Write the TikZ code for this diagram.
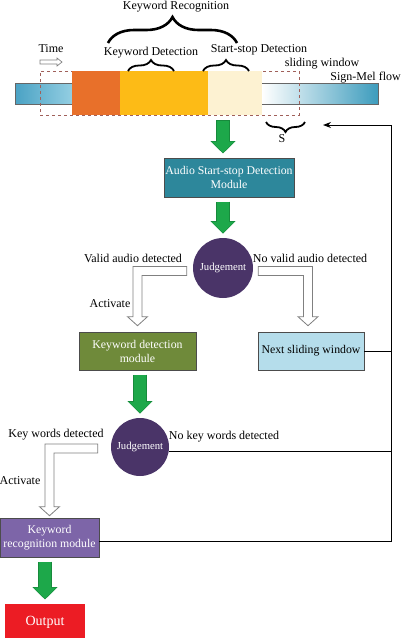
\documentclass[tikz,border=0pt]{standalone}
\usepackage{fontspec}
\setmainfont{Liberation Serif}
\usetikzlibrary{arrows.meta,calc,decorations.pathreplacing}
\definecolor{barLa}{HTML}{4AA2C4}
\definecolor{barLb}{HTML}{93CEE2}
\definecolor{barR}{HTML}{3D9CBD}
\definecolor{dashc}{HTML}{A0605A}
\definecolor{orangeb}{HTML}{E8702A}
\definecolor{amberb}{HTML}{FDBB16}
\definecolor{creamb}{HTML}{FDF2D2}
\definecolor{tealb}{HTML}{2D879B}
\definecolor{purplec}{HTML}{4A3468}
\definecolor{oliveb}{HTML}{6F8A3A}
\definecolor{lblueb}{HTML}{B5DDEB}
\definecolor{purpleb}{HTML}{7D65A8}
\definecolor{redb}{HTML}{EC1C24}
\definecolor{greena}{HTML}{1DA84A}
\definecolor{greenb}{HTML}{178A3C}
\newcommand\hollowarr[3]{%
  \draw[hollow] let \p1=(#1), \p2=(#2) in
  (\x1,{\y1+4.5pt}) -- ({\x2-(#3)*4.5pt},{\y1+4.5pt}) -- ({\x2-(#3)*4.5pt},{\y2+9pt})
  -- ({\x2-(#3)*10pt},{\y2+9pt}) -- (\x2,\y2) -- ({\x2+(#3)*10pt},{\y2+9pt})
  -- ({\x2+(#3)*4.5pt},{\y2+9pt}) -- ({\x2+(#3)*4.5pt},{\y1-4.5pt}) -- (\x1,{\y1-4.5pt}) -- cycle;}
\begin{document}
\begin{tikzpicture}[x=1pt,y=-1pt,
  lbl/.style={font=\fontsize{12}{14}\selectfont, inner sep=0pt},
  block/.style={inner sep=0pt, minimum height=44pt},
  modbox/.style={draw=gray!60!black, line width=0.6pt, inner sep=0pt, align=center,
     text=white, font=\fontsize{11.8}{14}\selectfont},
  judge/.style={circle, fill=purplec, inner sep=0pt, minimum size=#1, text=white,
     font=\fontsize{10.7}{12}\selectfont},
  bracebig/.style={decorate, decoration={brace, amplitude=26pt}, line width=2.6pt},
  bracesm/.style={decorate, decoration={brace, amplitude=11pt}, line width=1.8pt},
  garrow/.style={draw=greena, line width=12pt, -{Triangle[width=22pt,length=11pt]},
     shorten <=5pt, shorten >=5pt,
     preaction={draw=greenb, line width=13.4pt, -{Triangle[width=24.5pt,length=12.5pt]}, shorten <=4.3pt, shorten >=4.2pt}},
  hollow/.style={draw=gray, fill=white, line width=0.8pt, line join=miter},
  fline/.style={draw=black, line width=1pt}]
\useasboundingbox (0,0) rectangle (400,638);

% signal flow bar
\shade[left color=barLa, right color=barLb] (15,83) rectangle (72,104);
\shade[left color=white, right color=barR] (262,83) rectangle (378,104);
\node[draw=gray!80!black, line width=0.6pt, inner sep=0pt, minimum width=363pt, minimum height=21pt] (flow) at (196.5,93.5) {};
\node[draw=dashc, dashed, line width=0.8pt, inner sep=0pt, minimum width=259pt, minimum height=44pt] (win) at (169.5,93) {};
\node[block, fill=orangeb, minimum width=48pt] (orb) at (96,93) {};
\node[block, fill=amberb, minimum width=88pt] (amb) at (164,93) {};
\node[block, fill=creamb, minimum width=54pt] (crb) at (235,93) {};

% braces
\draw[bracebig] (108,43) -- (237,43);
\draw[bracesm] (128,71) -- (174,71);
\draw[bracesm] (203,71) -- (249,71);
\draw[bracesm, decoration={amplitude=10pt}] (305,122) -- (266,122);

% top labels
\node[lbl] (tkr) at (176,7) {Keyword Recognition};
\node[lbl] (ttime) at (51,49) {Time};
\draw[draw=gray, line width=0.7pt] (40,60) -- (57,60) -- (57,58) -- (62,62) -- (57,66) -- (57,64) -- (40,64) -- cycle;
\node[lbl] (tkd) at (151,53) {Keyword Detection};
\node[lbl] (tss) at (259,50) {Start-stop Detection};
\node[lbl] (tsw) at (322,64) {sliding window};
\node[lbl, anchor=east] (tsm) at (401,78) {Sign-Mel flow};
\node[lbl] (ts) at (282,139) {S};

% modules
\node[modbox, fill=tealb, minimum width=130pt, minimum height=39pt] (audio) at (229,177.5) {Audio Start-stop Detection\\Module};
\node[judge=60pt] (j1) at (223,268) {Judgement};
\node[modbox, fill=oliveb, minimum width=117pt, minimum height=38pt] (kw) at (137.5,351) {Keyword detection\\module};
\node[modbox, fill=lblueb, text=black, minimum width=106pt, minimum height=38pt] (next) at (311,351) {Next sliding window};
\node[judge=58pt] (j2) at (140,447) {Judgement};
\node[modbox, fill=purpleb, minimum width=99pt, minimum height=39pt] (kr) at (49.5,537.5) {Keyword\\recognition module};
\node[modbox, fill=redb, draw=none, minimum width=80pt, minimum height=36pt, font=\fontsize{14}{16}\selectfont] (out) at (45,622) {Output};

% labels
\node[lbl] (lva) at (133,258) {Valid audio detected};
\node[lbl] (lnva) at (310,258) {No valid audio detected};
\node[lbl] (lact1) at (110,304) {Activate};
\node[lbl] (lkw) at (56,435) {Key words detected};
\node[lbl] (lnkw) at (224,437) {No key words detected};
\node[lbl] (lact2) at (20,481) {Activate};

% green arrows
\coordinate (g1s) at (223,116);
\draw[garrow] (g1s) -- (g1s |- audio.north);
\draw[garrow] (audio.south -| j1) -- (j1.north);
\draw[garrow] (kw.south -| j2) -- (j2.north);
\draw[garrow] (kr.south -| out) -- (out.north);

% hollow arrows
\coordinate (h1s) at ($(j1.west)+(-6,3)$);
\coordinate (h1t) at ($(kw.north)+(0,-6)$);
\hollowarr{h1s}{h1t}{1}
\coordinate (h2s) at ($(j1.east)+(5,3)$);
\coordinate (h2t) at ($(next.north)+(-3,-6)$);
\hollowarr{h2s}{h2t}{-1}
\coordinate (h3s) at ($(j2.west)+(-13,1.5)$);
\coordinate (h3t) at ($(kr.north)+(0,-2)$);
\hollowarr{h3s}{h3t}{1}

% feedback loop
\coordinate (fbc) at (391,125);
\coordinate (fbt) at (323,125);
\coordinate (fbb) at (391,541);
\draw[fline] (kr.east |- fbb) -- (fbb) -- (fbc);
\draw[fline, -{Stealth[length=8pt,width=6pt]}] (fbc) -- (fbt);
\draw[fline] (next.east) -- (next.east -| fbc);
\draw[fline] (j2.-8) -- (j2.-8 -| fbc);
\end{tikzpicture}
\end{document}
